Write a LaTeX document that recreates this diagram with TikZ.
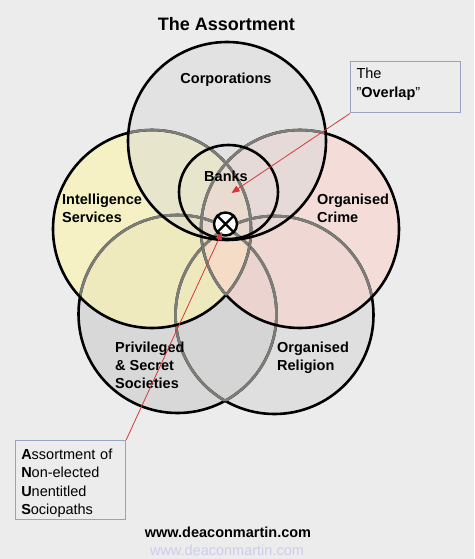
\documentclass[tikz,border=0pt]{standalone}
\usepackage{fontspec}
\setmainfont{Liberation Sans}
\usetikzlibrary{arrows.meta}
\definecolor{paper}{RGB}{236,236,236}
\definecolor{pfill}{RGB}{200,200,200}
\definecolor{rfill}{RGB}{212,212,212}
\definecolor{ifill}{RGB}{250,245,175}
\definecolor{cfill}{RGB}{250,212,205}
\definecolor{corpfill}{RGB}{215,215,215}
\definecolor{hidden}{RGB}{125,125,120}
\definecolor{boxline}{RGB}{150,162,192}
\definecolor{arrowred}{RGB}{215,55,55}
\definecolor{faded}{RGB}{205,205,235}
\newcommand\ghostarc[2]{\begin{scope}\clip (#2) circle[radius=\rr]; \draw[ghost] (#1) circle[radius=\rr];\end{scope}}
\def\rr{99}
\begin{document}
\begin{tikzpicture}[x=1pt,y=-1pt,
  ring/.style={line width=2.6pt, draw=black},
  ghost/.style={line width=2.6pt, draw=hidden},
  lbl/.style={font=\fontsize{14.5}{18}\selectfont\bfseries, inner sep=0pt, align=left, text=black},
  callout/.style={draw=boxline, line width=1.1pt, font=\fontsize{14.5}{18.6}\selectfont, align=left, text width=98pt, inner xsep=6pt},
  pointer/.style={draw=arrowred, line width=0.8pt, -{Triangle[length=8pt,width=6.5pt]}, arrowred}
]
\fill[paper] (0,0) rectangle (474,559);
\useasboundingbox (0,0) rectangle (474,559);

\coordinate (corpc) at (227,141);
\coordinate (intc) at (152,229);
\coordinate (crimec) at (300,229);
\coordinate (privc) at (177.5,314);
\coordinate (relc) at (274.5,315);
\coordinate (bankc) at (228.5,192);

% fills
\fill[pfill, fill opacity=0.55] (privc) circle[radius=\rr];
\fill[rfill, fill opacity=0.5] (relc) circle[radius=\rr];
\fill[ifill, fill opacity=0.65] (intc) circle[radius=\rr];
\fill[cfill, fill opacity=0.6] (crimec) circle[radius=\rr];
\fill[corpfill, fill opacity=0.45] (corpc) circle[radius=\rr];

% lower circles
\draw[ring] (privc) circle[radius=\rr];
\draw[ring] (relc) circle[radius=\rr];
\ghostarc{privc}{relc}\ghostarc{privc}{intc}\ghostarc{privc}{crimec}\ghostarc{privc}{corpc}
\ghostarc{relc}{privc}\ghostarc{relc}{intc}\ghostarc{relc}{crimec}\ghostarc{relc}{corpc}

% middle circles
\draw[ring] (intc) circle[radius=\rr];
\draw[ring] (crimec) circle[radius=\rr];
\ghostarc{intc}{crimec}\ghostarc{intc}{corpc}
\ghostarc{crimec}{intc}\ghostarc{crimec}{corpc}

% top circles
\draw[ring] (corpc) circle[radius=\rr];
\draw[ring] (bankc) ellipse[x radius=49.5, y radius=47];

% overlap marker
\node[circle, draw, line width=2.4pt, fill=white, minimum size=23pt, inner sep=0pt] (xnode) at (225.5,224) {};
\draw[line width=2.2pt] (xnode.45) -- (xnode.225);
\draw[line width=2.2pt] (xnode.135) -- (xnode.-45);

% labels
\node[font=\fontsize{18}{22}\selectfont\bfseries] (title) at (226.5,24) {The Assortment};
\node[lbl] (corplbl) at (226,80) {Corporations};
\node[lbl] (banklbl) at (226,176) {Banks};
\node[lbl, anchor=north west] (intlbl) at (62,194) {Intelligence\\Services};
\node[lbl, anchor=north west] (crimelbl) at (317,194) {Organised\\Crime};
\node[lbl, anchor=north west] (privlbl) at (115,342) {Privileged\\\& Secret\\Societies};
\node[lbl, anchor=north west] (rellbl) at (277,342) {Organised\\Religion};

% callouts
\node[callout, anchor=north west, inner ysep=6.8pt] (overlap) at (350,61) {The\\”\textbf{Overlap}”\rule[-8.6pt]{0pt}{8.6pt}};
\node[callout, anchor=north west, inner ysep=1.5pt, text width=98.6pt, inner xsep=5.7pt] (anus) at (15,440) {\rule{0pt}{17pt}\textbf{A}ssortment of\\\textbf{N}on-elected\\\textbf{U}nentitled\\\textbf{S}ociopaths};

\coordinate (ovtip) at (231.5,193);
\coordinate (xtip) at (222,232);
\draw[pointer] (overlap.south west) -- (ovtip);
\draw[pointer] (anus.north east) -- (xtip);

% footer
\node[font=\fontsize{14.5}{18}\selectfont\bfseries] (web) at (228,532) {www.deaconmartin.com};
\node[font=\fontsize{14.5}{18}\selectfont, text=faded] (webshadow) at (227,550) {www.deaconmartin.com};
\end{tikzpicture}
\end{document}
